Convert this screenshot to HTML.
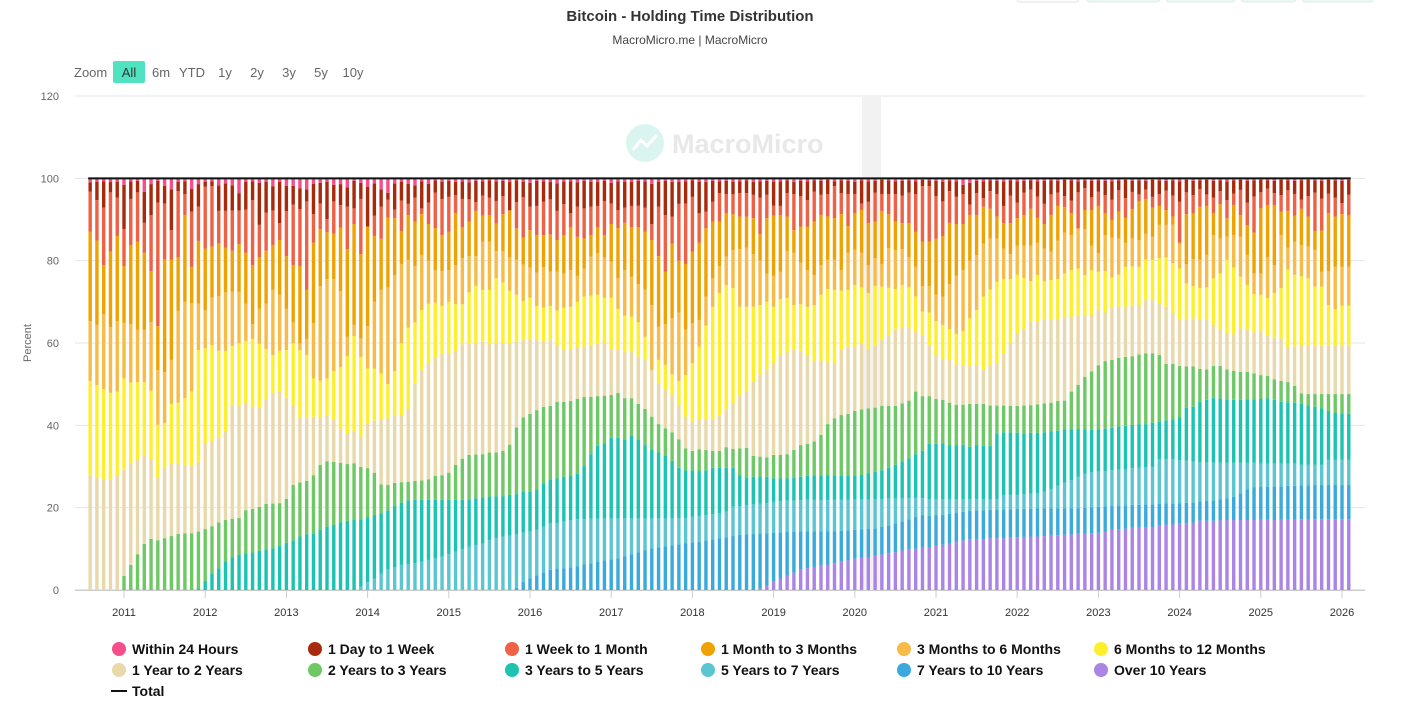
<!DOCTYPE html>
<html><head><meta charset="utf-8"><style>
body{margin:0;background:#fff;width:1410px;height:726px;overflow:hidden;font-family:"Liberation Sans",sans-serif}
svg{display:block}
</style></head><body>
<svg id="chart" width="1410" height="726" xmlns="http://www.w3.org/2000/svg" font-family="Liberation Sans, sans-serif">
<g>
<rect x="1017" y="-6" width="62" height="8" rx="3" fill="#fff" stroke="#e3e3e3"/>
<rect x="1087" y="-6" width="73" height="8" rx="3" fill="#eaf8f4" stroke="#dfeee9"/>
<rect x="1166" y="-6" width="69" height="8" rx="3" fill="#eaf8f4" stroke="#dfeee9"/>
<rect x="1241" y="-6" width="55" height="8" rx="3" fill="#eaf8f4" stroke="#dfeee9"/>
<rect x="1302" y="-6" width="71" height="8" rx="3" fill="#eaf8f4" stroke="#dfeee9"/>
</g>
<text x="690" y="21" text-anchor="middle" font-size="15" font-weight="bold" fill="#333">Bitcoin - Holding Time Distribution</text>
<text x="690" y="44" text-anchor="middle" font-size="12" fill="#444">MacroMicro.me | MacroMicro</text>
<g font-size="13" fill="#666">
<text x="74" y="77">Zoom</text>
<rect x="113" y="61" width="32" height="22" rx="2" fill="#50e3c2"/>
<text x="129" y="77" text-anchor="middle" fill="#333">All</text>
<text x="161" y="77" text-anchor="middle">6m</text>
<text x="192" y="77" text-anchor="middle">YTD</text>
<text x="225" y="77" text-anchor="middle">1y</text>
<text x="257" y="77" text-anchor="middle">2y</text>
<text x="289" y="77" text-anchor="middle">3y</text>
<text x="321" y="77" text-anchor="middle">5y</text>
<text x="353" y="77" text-anchor="middle">10y</text>
</g>
<g id="grid"></g>
<rect x="862" y="97" width="19" height="493" fill="#f2f2f2"/>
<g opacity="0.55">
<circle cx="645" cy="143" r="19" fill="#bdeee2"/>
<path d="M633 150 L641 140 L647 146 L657 135" stroke="#fff" stroke-width="3" fill="none"/>
<text x="672" y="153" font-size="27" font-weight="bold" fill="#d6d6d6">MacroMicro</text>
</g>
<g id="yaxis"></g>
<text transform="translate(31,343) rotate(-90)" text-anchor="middle" font-size="11" fill="#666">Percent</text>
<g id="bars"></g>
<g id="xaxis"></g>
<g id="legend"></g>
</svg>
<script>
// Cumulative top (%) of each band, monthly Aug 2010 .. Feb 2026 (187 bars)
var startYear = 2010, startMonth = 8, barCount = 187;
var yTicks = [0, 20, 40, 60, 80, 100, 120];
var xTickYears = [2011,2012,2013,2014,2015,2016,2017,2018,2019,2020,2021,2022,2023,2024,2025,2026];
var over10yTop = [0,0,0,0,0,0,0,0,0,0,0,0,0,0,0,0,0,0,0,0,0,0,0,0,0,0,0,0,0,0,0,0,0,0,0,0,0,0,0,0,0,0,0,0,0,0,0,0,0,0,0,0,0,0,0,0,0,0,0,0,0,0,0,0,0,0,0,0,0,0,0,0,0,0,0,0,0,0,0,0,0,0,0,0,0,0,0,0,0,0,0,0,0,0,0,0,0,0,0,
0.3,1,2,2.8,3.5,4.2,4.9,5.3,5.6,5.9,6.2,6.5,6.9,7.2,7.6,7.8,7.9,8.3,8.6,8.9,9.2,9.6,9.8,10,10.3,
10.3,10.8,11,11.3,11.7,12,12.3,12.4,12.4,12.6,12.6,12.6,12.7,12.8,12.9,13,13,13.1,13.2,13.3,13.4,13.5,13.7,13.7,13.8,13.9,14.2,14.7,14.8,14.9,15.1,15.1,15.3,15.3,15.7,15.9,15.9,16.1,16.2,16.4,16.9,16.8,16.8,16.9,17,17,17,17,17,17.1,17.1,17,17.1,17.1,17.1,17.2,17.1,17.2,17.2,17.2,17.2,17.2,17.2];
var y7to10Top = [0,0,0,0,0,0,0,0,0,0,0,0,0,0,0,0,0,0,0,0,0,0,0,0,0,0,0,0,0,0,0,0,0,0,0,0,0,0,0,0,0,0,0,0,0,0,0,0,0,0,0,0,0,0,0,0,0,0,0,0,0,0,0,
0.5,2,2.8,3.6,4.3,4.9,5.1,5.3,5.5,5.8,6.2,6.5,6.9,7.2,7.4,7.7,8.2,8.7,9.2,9.6,10.1,10.4,10.6,10.9,11.1,11.4,11.6,11.7,12,12.3,12.6,12.8,13.1,13.4,13.5,13.6,13.7,13.8,13.9,14,14.1,14.1,14.2,14.2,14.3,14.3,14.3,14.3,14.4,14.5,14.6,14.7,14.8,15,15.3,15.7,16.2,16.7,17.2,17.8,18.2,
18,18.2,18.3,18.5,18.8,19,19.2,19.3,19.4,19.5,19.6,19.6,19.6,19.7,19.7,19.7,19.8,19.8,19.8,19.8,19.8,19.8,19.8,20,20.1,20.2,20.3,20.4,20.5,20.6,20.7,20.7,20.8,20.8,20.9,21,21,21.1,21.2,21.3,21.5,21.7,21.8,22,22.3,22.6,23.5,24.4,25,25.1,25.1,25.2,25.2,25.3,25.3,25.4,25.4,25.5,25.5,25.5,25.6,25.5,25.5];
var y5to7Top = [0,0,0,0,0,0,0,0,0,0,0,0,0,0,0,0,0,0,0,0,0,0,0,0,0,0,0,0,0,0,0,0,0,0,0,0,0,0,0,0,
0.8,1.9,2.8,4,5,5.5,6.1,6.3,6.5,6.9,7.3,7.7,8.1,8.7,9.3,9.9,10.5,10.9,11.3,12.1,
12.6,13,13.2,13.6,13.9,14.2,14.6,15.4,16.2,16.2,16.6,17,17.2,17.2,17.3,17.3,17.4,17.4,17.4,17.4,17.4,17.4,17.4,17.4,17.4,17.4,17.4,17.5,17.5,17.8,18,18.2,18.4,18.6,19,20.2,20.4,20.6,20.9,21,21.1,21.5,21.6,21.7,21.7,21.8,21.9,21.9,21.8,21.8,21.9,21.9,21.9,22,22,22,22.1,22.1,22.2,22.2,22.2,22.3,22.3,22.3,
22.1,22.1,22.1,22.1,22.1,22.1,22.1,22.1,22.1,22.1,22.1,23,23.1,23.2,23.3,23.4,23.5,23.9,24.5,25.3,26.1,26.7,27.5,28.3,28.6,28.8,28.9,29.1,29.2,29.3,29.6,29.7,29.8,29.9,31.8,31.8,31.8,31.5,31.4,31.2,31.1,31,30.9,30.9,30.9,30.9,30.9,30.9,30.9,30.7,30.7,30.7,30.7,30.7,30.7,30.4,30.4,30.4,30.4,31.7,31.7,31.7,31.7];
var y3to5Top = [0,0,0,0,0,0,0,0,0,0,0,0,0,0,0,0,
0.4,2.2,3.9,5.3,6.9,7.9,8.5,8.9,9.1,9.5,9.9,10.1,10.7,11.5,12,13,13.5,13.6,14.6,15.4,15.8,16.4,16.8,17,17.2,17.6,18.2,18.6,19.3,20.4,21.2,21.8,21.9,21.9,21.9,21.9,21.9,21.9,21.9,21.9,22,22.3,22.5,22.7,
22.8,22.8,23.1,23.3,23.9,23.9,24.5,25.9,26.9,27.1,27.5,27.9,28.2,30.1,33,35,35.6,37,37,36.6,37.4,36.6,35.2,34,33.4,32.7,31.4,29.7,29.1,29.1,28.9,29.1,29.7,29.7,29.7,
29.7,27.9,27.3,27.5,27.6,27.5,27.1,27.1,27.1,27.3,27.5,27.7,27.9,27.9,27.9,27.9,27.7,27.7,27.7,28,28.3,28.7,29.1,29.7,30.4,31.2,32,33,33.8,
35.5,35.5,35.6,35.2,35.2,35.3,34.8,35.1,35,35,38,38.3,38.3,38.2,38.1,38.2,38.2,38.3,38.5,38.7,39,39,39.1,39,38.9,39,39.2,39.4,39.7,39.9,40.1,40.2,40.3,40.6,40.9,41.2,41.5,41.9,44.3,44.5,45.7,46.2,46.6,46.5,46.3,46.2,46.2,46.3,46.3,46.4,46.6,46.2,45.7,45.6,45.5,45.2,44.9,44.5,44.1,43.5,43,42.9,42.8];
var y2to3Top = [0,0,0,0,0,
3.4,6.1,8.7,11.2,12.4,12.1,12.6,13.1,13.6,13.8,13.8,14.2,14.8,15.5,16.4,17,17.3,17.5,19.4,19.7,20.2,20.9,21,21.1,22.1,25.5,26.1,26.5,27.9,30.4,31.3,31.1,30.9,30.6,30.8,29.9,29.6,28.5,25.7,25.5,26,26.2,26.3,26.5,26.6,26.9,27.7,27.9,28.5,30.4,31.9,32.8,32.9,33,33.4,
33.4,33.8,35.3,39.5,41.9,42.8,43.7,44.5,44.7,45.7,45.7,45.9,46.4,46.9,46.9,47.1,47.2,47.4,47.9,46.6,46.6,45.2,44,42.1,40.3,39.3,38.3,36.6,34.4,33.8,34.2,34,33.8,33.8,34.7,34.3,34.4,34.5,32.6,32.4,32.2,32.8,32.8,33,34,35.2,35.5,36.1,37.7,40.3,41.7,42.5,42.8,43.5,43.9,44.1,44.3,44.7,44.7,44.7,45.3,46,48.2,47.1,
47.1,46.4,46.2,45.5,45,45,45.2,45.2,45.2,44.8,44.8,44.8,44.7,44.7,44.8,44.9,45.1,45.3,45.5,45.9,46,48.2,49.8,51.8,53.1,54.6,55.6,55.9,56.4,56.6,56.8,57.2,57.5,57.5,57.1,54.9,54.9,54.4,54.3,54.3,53.7,53.6,54.4,54.4,53.6,53.2,53,53,52.6,52.2,52,51.2,50.8,50.5,49.6,47.8,47.6,47.6,47.6,47.6,47.6,47.6,47.6];
var y1to2Top = [27.9,27.3,27,26.8,27.9,29.2,30.8,31.8,32.6,31.8,27.4,29.7,30.6,30.8,30.4,30.3,31,35.5,36.2,37,38.6,44.7,44.7,45.3,44.5,44.3,46.3,47.9,48.3,46.7,44.9,41.8,41.9,42.1,42,42.3,41.5,39.1,37.9,38.5,37.2,40.5,41.1,41.5,41.7,42.3,42.5,43.9,50.1,53.4,55.1,56.4,57.5,57.5,58.1,59.7,59.8,59.9,60.3,59.9,
59.9,59.9,59.9,60.3,60.7,61,60.7,60.5,60.7,59.4,58.3,58.3,58.9,59.1,59.3,59.8,59.9,58.5,58.5,57.7,58.1,56.7,55.9,53.4,50.2,48.7,47.4,44.9,42.1,40.9,41.3,41.3,41.3,42.3,43.7,45.3,47.1,48.3,50.6,52.4,53.4,55.1,57.1,57.7,58.3,58.1,57.1,55.5,55.7,55.3,55.1,58.3,59.1,59.1,59.9,58.5,59.3,60.9,61.9,63.2,63.6,63.6,62.8,61.7,
59.3,57.1,56,55.9,54.8,54.5,54.4,54.4,53.6,54.4,55.1,57.5,59.9,62.3,63.3,65.2,65.2,65.6,65.7,65.7,66.2,66.4,66.6,66.8,66.8,68,67.4,68.7,68.8,68.8,69,69.2,70.4,70.4,69.6,68.8,67.2,65.8,65.6,66,65.7,65.6,64.4,63.3,62.3,62.1,63.6,63.2,62.6,63,61.8,61.3,61.1,58.9,59.1,59.4,59.4,59.3,59.3,59.3,59.3,59.3,59.3];
var m6to12Top = [50.8,49.8,48.8,47.9,48.2,51.4,50.4,50.5,50.5,48.4,40.1,40.5,45.2,45.5,46.6,48.2,58.3,58.7,59.5,58.1,58.1,59.3,59.9,60.5,61,59.8,58.5,57.1,58.1,58.3,59.9,58.3,57.1,51.4,50.8,51.4,53.2,54.1,56.8,61.7,56.6,53.8,53.8,52.6,50,53.2,59.9,63.7,65,68,69.6,69.8,69,70,69.4,69.4,72.3,73.9,72.9,72.9,
75.7,74.7,72.7,71.7,70.2,71,69,68.6,69,67.9,68.6,68.8,70,71.3,71.5,71.7,71,71,68.3,66.6,66.4,65.1,61.5,53.4,55.9,54.7,52.4,50.8,52.2,55.1,59.1,64.2,68.8,72.1,74.1,73.3,68.8,68.8,68.8,69.2,70,68.8,70.7,70.9,69.2,69.4,68.8,69.2,71.7,73.1,72.9,72.7,72.9,74.1,73.5,72.1,73.9,73.7,73.4,73.1,74.1,73.5,71.3,67.6,
67.4,65.3,64.4,63.4,62.2,62.9,66,68,71.3,73,74.9,75.5,75.5,76.6,75.8,75,76.5,75,75.3,75.5,76.9,77.7,78.1,76.5,77.7,77.3,77.5,75.9,76.6,78.5,78.6,78.5,80.3,80.2,80.6,80.8,79.4,78.1,74.5,73.8,73.3,73.5,75.7,76.9,80.2,78.3,76.1,74.1,71.9,71.7,70.9,72.1,73.3,77.9,76.6,76.2,75.7,73.7,73.7,69.2,68.2,69.1,69.1];
var m3to6Top = [65.3,64.4,67,63.9,65.3,64.9,64.6,63.2,63.2,65.1,53.4,52.9,55.9,67.8,70,69.7,69.6,68,71,71.4,72.3,72.5,72.4,69.6,64.6,68.3,69.6,72.9,71.7,68.3,65,59.9,61,64.8,73.8,75.5,75.5,72.6,61.5,64.4,61.1,64.1,70,72.9,73.5,76.5,79.2,80.2,78.7,81.4,80,77.7,77.5,77.7,78.9,80.6,81.1,81.1,84.6,84.6,
82.3,82.3,80.8,80.2,79,78.3,77.1,78.4,77.3,77.3,76.8,77.7,76.3,78.1,81,81.8,80.7,79.8,75.7,77.7,76.1,74.3,73,69.2,64,64.6,66,67.4,63.2,64.8,65.6,71.3,75.7,78.7,81,82.6,82.8,83.2,81.6,80,76.8,76.3,77.3,82.3,81.9,79.5,77.7,76.5,78.9,80.2,80.2,77.7,81.9,82.7,81.9,78.9,80.6,79.2,83,82.6,82.8,80.8,78.5,73.8,
73.8,71.7,71.3,74.3,76.3,77.7,80,81.3,84.1,85.4,85.4,82.9,81.6,83.6,83.6,83.6,84.4,82.9,82.2,84.9,86.8,86.2,87.6,87.6,83.6,81.8,86.2,85.6,85.4,84.4,85.4,85,86.6,85.8,88.7,88.7,88.7,84.2,79.1,80.4,80.2,81.4,86.2,85.4,85.8,86.2,85.8,81.4,76.9,76.9,80.8,78.9,86.2,83.2,84.6,83.8,83.4,82.6,77.3,77.5,78.5,78.5,78.5];
var m1to3Top = [87,84.9,78.9,82.2,86,78.7,83.8,84.6,81.9,77.5,64.1,80.3,80.2,80.8,91.1,78.5,84.8,82.9,83.4,84.2,83.2,82.4,84,81.9,78.9,80.8,82.4,83.8,85,81.1,78.9,78.7,73,84.4,87.7,86.9,86.6,88,82.8,88.9,81.6,88.3,86,85.3,90.5,90.3,87.2,91.1,89.5,91.3,88.9,87.9,86.2,87,91.5,88.1,89.5,92.1,90.9,91.1,
89,91.3,92.2,87.9,85.6,87.4,86.2,86.2,86.4,85,86.2,88.1,85.8,85.4,86.2,88.1,86.2,88.9,87.9,89.2,88.1,88.1,87,85,81.1,77.3,84.1,80,79.2,82.2,84.4,87.9,89.5,89.5,91.5,91.3,90.7,90.7,90.3,86.5,90.3,90.9,91.1,90.7,87.4,88.3,88.3,89.5,91.1,90.7,90.3,91.3,88.4,91.5,92.3,89.1,89.5,92.1,91.3,89.5,89.1,89.1,87,84.6,
84.6,85.3,86,89.2,88.9,88.9,91.1,91.1,93.1,92.6,90.7,89.1,89.1,90.3,91.1,92.6,90.4,88.9,91.1,93.3,93,91.5,87.9,92.3,92.3,93.3,91.5,89.9,91.9,90.4,92.5,94.5,95,92.9,93.3,92.3,90.7,84.4,91.3,91.5,93.1,93.3,91.5,93.7,90.3,93.5,91.1,88.6,86.8,92.7,93.5,93.5,91.9,92.1,90.9,92.6,90.7,87.2,87.3,91.5,90.7,91.3,91];
var w1tom1Top = [96.8,94.7,92.9,96.6,95.3,87.7,95,96.6,89.2,91.1,94.1,93.9,87.4,96.9,96.2,91.9,93.1,98,98.1,92.1,92.1,92.2,92.2,92.4,94.7,88.7,91.7,92.2,89.1,92,93.6,92.5,94.4,91.3,93.9,90.1,94.4,93.5,93.1,92.7,95,88,90.9,93.1,94.8,92.4,94.6,93.8,95.3,92.7,94.1,96.5,95,95.5,95.9,95,94.9,94.2,95.8,95.3,
94.5,95.7,92.3,94.2,95.4,93.1,93.3,94.3,94.9,92.1,93.7,91.5,93.1,92.7,93.1,93.3,94.5,93.9,92.3,92.9,93.3,93.4,92.9,88.9,93.1,91.1,90.7,93.8,93.9,95.5,91.5,91.9,94.3,96.4,96.2,96.2,96.4,96.4,96,95.3,96,93.4,93.3,96.4,96.2,95.7,94.7,96.8,96,96.2,98.1,96.4,96.2,96.2,93.9,94.3,96.5,96.2,96.2,96.2,95.8,96.5,96.2,98.1,
98.1,95.7,94.4,96.9,95.5,96.2,93.6,96.4,95.2,96.9,96.2,93.3,95.8,94.1,96.5,97.3,95.6,93.8,96.1,96.5,95.7,94.6,96.6,97.6,95.4,96.8,95.9,94.8,97.1,95.2,96.7,96.1,97.3,95.5,96.2,97,95.8,94.3,96.6,95.9,97.4,96.1,95.3,96.9,94.7,96.3,97.2,94.1,95.6,96.6,97.5,96.4,95.9,97.1,96.2,94.8,95.7,96.5,95.1,96.3,95.3,94,96];
var d1tow1Top = [99,99.2,99.3,99.1,99.2,98.4,99.3,99.4,96.7,98.6,99.4,98.2,97.3,99.2,99.3,97.4,98.6,99.2,99.3,98.3,98.8,98.3,96.4,99.2,99.3,98.9,99.2,98.1,99.1,98.2,98.2,97.6,97.3,98.7,98.9,99.2,98.4,98.6,97.8,99.4,98.9,97.9,98.8,97.3,96.5,98.8,99.2,98.7,98.3,99.3,98.7,99.5,99.2,99.4,99.1,99.3,99,99.4,99.3,99.5,
99.3,99.4,99.1,99.5,99.2,98.9,99.4,99.3,99.1,98.8,99.2,99.3,99,99.4,99.2,99.1,99.4,98.9,99.3,99.2,99.1,99.4,99.3,98.7,99.2,99.4,99.1,99.2,99.3,99.5,99.2,99.1,99.4,99.3,99.4,99.2,99.3,99.5,99.1,99.3,99.4,99.2,99.3,99.5,99.1,99.4,99.3,99.5,99.4,99.6,99.3,99.5,99.4,99.2,99.5,99.3,99.4,99.6,99.5,99.3,99.4,99.5,99.3,99.6,
99.5,99.4,99.2,99.5,99.3,98.4,98.9,99.4,99.3,99.5,99.4,99.2,99.5,99.3,99.4,99.5,99.3,99.4,99.5,99.4,99.6,99.5,99.3,99.5,99.4,99.5,99.4,99.3,99.5,99.6,99.4,99.5,99.4,99.6,99.5,99.4,99.5,99.3,99.6,99.4,99.5,99.6,99.4,99.5,99.3,99.5,99.6,99.4,99.5,99.6,99.5,99.4,99.6,99.5,99.4,99.5,99.6,99.5,99.4,99.6,99.5,99.4,99.6];
var totalValues = [100];

var seriesNames = ["Over 10 Years","7 Years to 10 Years","5 Years to 7 Years","3 Years to 5 Years","2 Years to 3 Years","1 Year to 2 Years","6 Months to 12 Months","3 Months to 6 Months","1 Month to 3 Months","1 Week to 1 Month","1 Day to 1 Week","Within 24 Hours"];
var seriesColors = ["#ab84e6","#3aa9dc","#5bc5d2","#1bc3b0","#6ec864","#e9d8a9","#fdef2e","#f8bb48","#f0a202","#ef6045","#a8290b","#f54e8a"];
var seriesTops = [over10yTop,y7to10Top,y5to7Top,y3to5Top,y2to3Top,y1to2Top,m6to12Top,m3to6Top,m1to3Top,w1tom1Top,d1tow1Top];

var NS="http://www.w3.org/2000/svg";
function mk(tag,attrs,parent){var e=document.createElementNS(NS,tag);for(var k in attrs)e.setAttribute(k,attrs[k]);parent.appendChild(e);return e;}
var plotL=75,plotR=1365,plotB=590,plotT=96;
function yScale(v){return plotB-(v/120)*(plotB-plotT);}
function xScale(t){return 124+(t-2011)*81.2;}
function barX(i){var m=startMonth-1+i;var yr=startYear+Math.floor(m/12);var mo=m%12;return xScale(yr+mo/12);}

var grid=document.getElementById('grid'),yaxis=document.getElementById('yaxis');
yTicks.forEach(function(v){
  var g=mk('line',{x1:plotL,x2:plotR,y1:yScale(v),y2:yScale(v),stroke:v===0?'#ccc':'#e6e6e6','stroke-width':1},grid);
  
  
  var t=mk('text',{x:59,y:yScale(v)+4,'text-anchor':'end','font-size':11,fill:'#666'},yaxis);
  t.textContent=v;
  
  
});

var bars=document.getElementById('bars');
for(var i=0;i<barCount;i++){
  var cx=barX(i);
  var prev=0;
  for(var s=0;s<seriesNames.length;s++){
    var tv=(s<seriesTops.length)?seriesTops[s][i]:totalValues[0];
    if(!(tv>=prev))tv=prev;
    if(tv>prev){
      var r=mk('rect',{x:(cx-1.7).toFixed(2),y:yScale(tv).toFixed(2),width:3.4,height:(yScale(prev)-yScale(tv)).toFixed(2),fill:seriesColors[s]},bars);
      
      
    }
    prev=tv;
  }
}
var tl=mk('line',{x1:barX(0)-2,x2:barX(barCount-1)+2,y1:yScale(totalValues[0]),y2:yScale(totalValues[0]),stroke:'#111','stroke-width':2},bars);



var xaxis=document.getElementById('xaxis');
var al=mk('line',{x1:plotL,x2:plotR,y1:plotB+0.5,y2:plotB+0.5,stroke:'#ccc'},xaxis);


xTickYears.forEach(function(yv){
  var x=xScale(yv);
  var tk=mk('line',{x1:x,x2:x,y1:plotB,y2:plotB+8,stroke:'#ccc'},xaxis);
  
  
  var t=mk('text',{x:x,y:616,'text-anchor':'middle','font-size':11,fill:'#333'},xaxis);
  t.textContent=yv;
  
  
});

var legendOrder=[11,10,9,8,7,6,5,4,3,2,1,0];
var colX=[119,315,512,708,904,1101];
var legend=document.getElementById('legend');
legendOrder.forEach(function(s,k){
  var cx=colX[k%6],cy=649+Math.floor(k/6)*21;
  var g=mk('g',{},legend);
  
  
  mk('circle',{cx:cx,cy:cy,r:7,fill:seriesColors[s]},g);
  var t=mk('text',{x:cx+13,y:cy+5,'font-size':14,'font-weight':'bold',fill:'#111'},g);
  t.textContent=seriesNames[s];
});
var tg=mk('g',{},legend);


mk('line',{x1:111,x2:127,y1:691,y2:691,stroke:'#111','stroke-width':2},tg);
var tt=mk('text',{x:132,y:696,'font-size':14,'font-weight':'bold',fill:'#111'},tg);
tt.textContent='Total';
</script>
</body></html>
